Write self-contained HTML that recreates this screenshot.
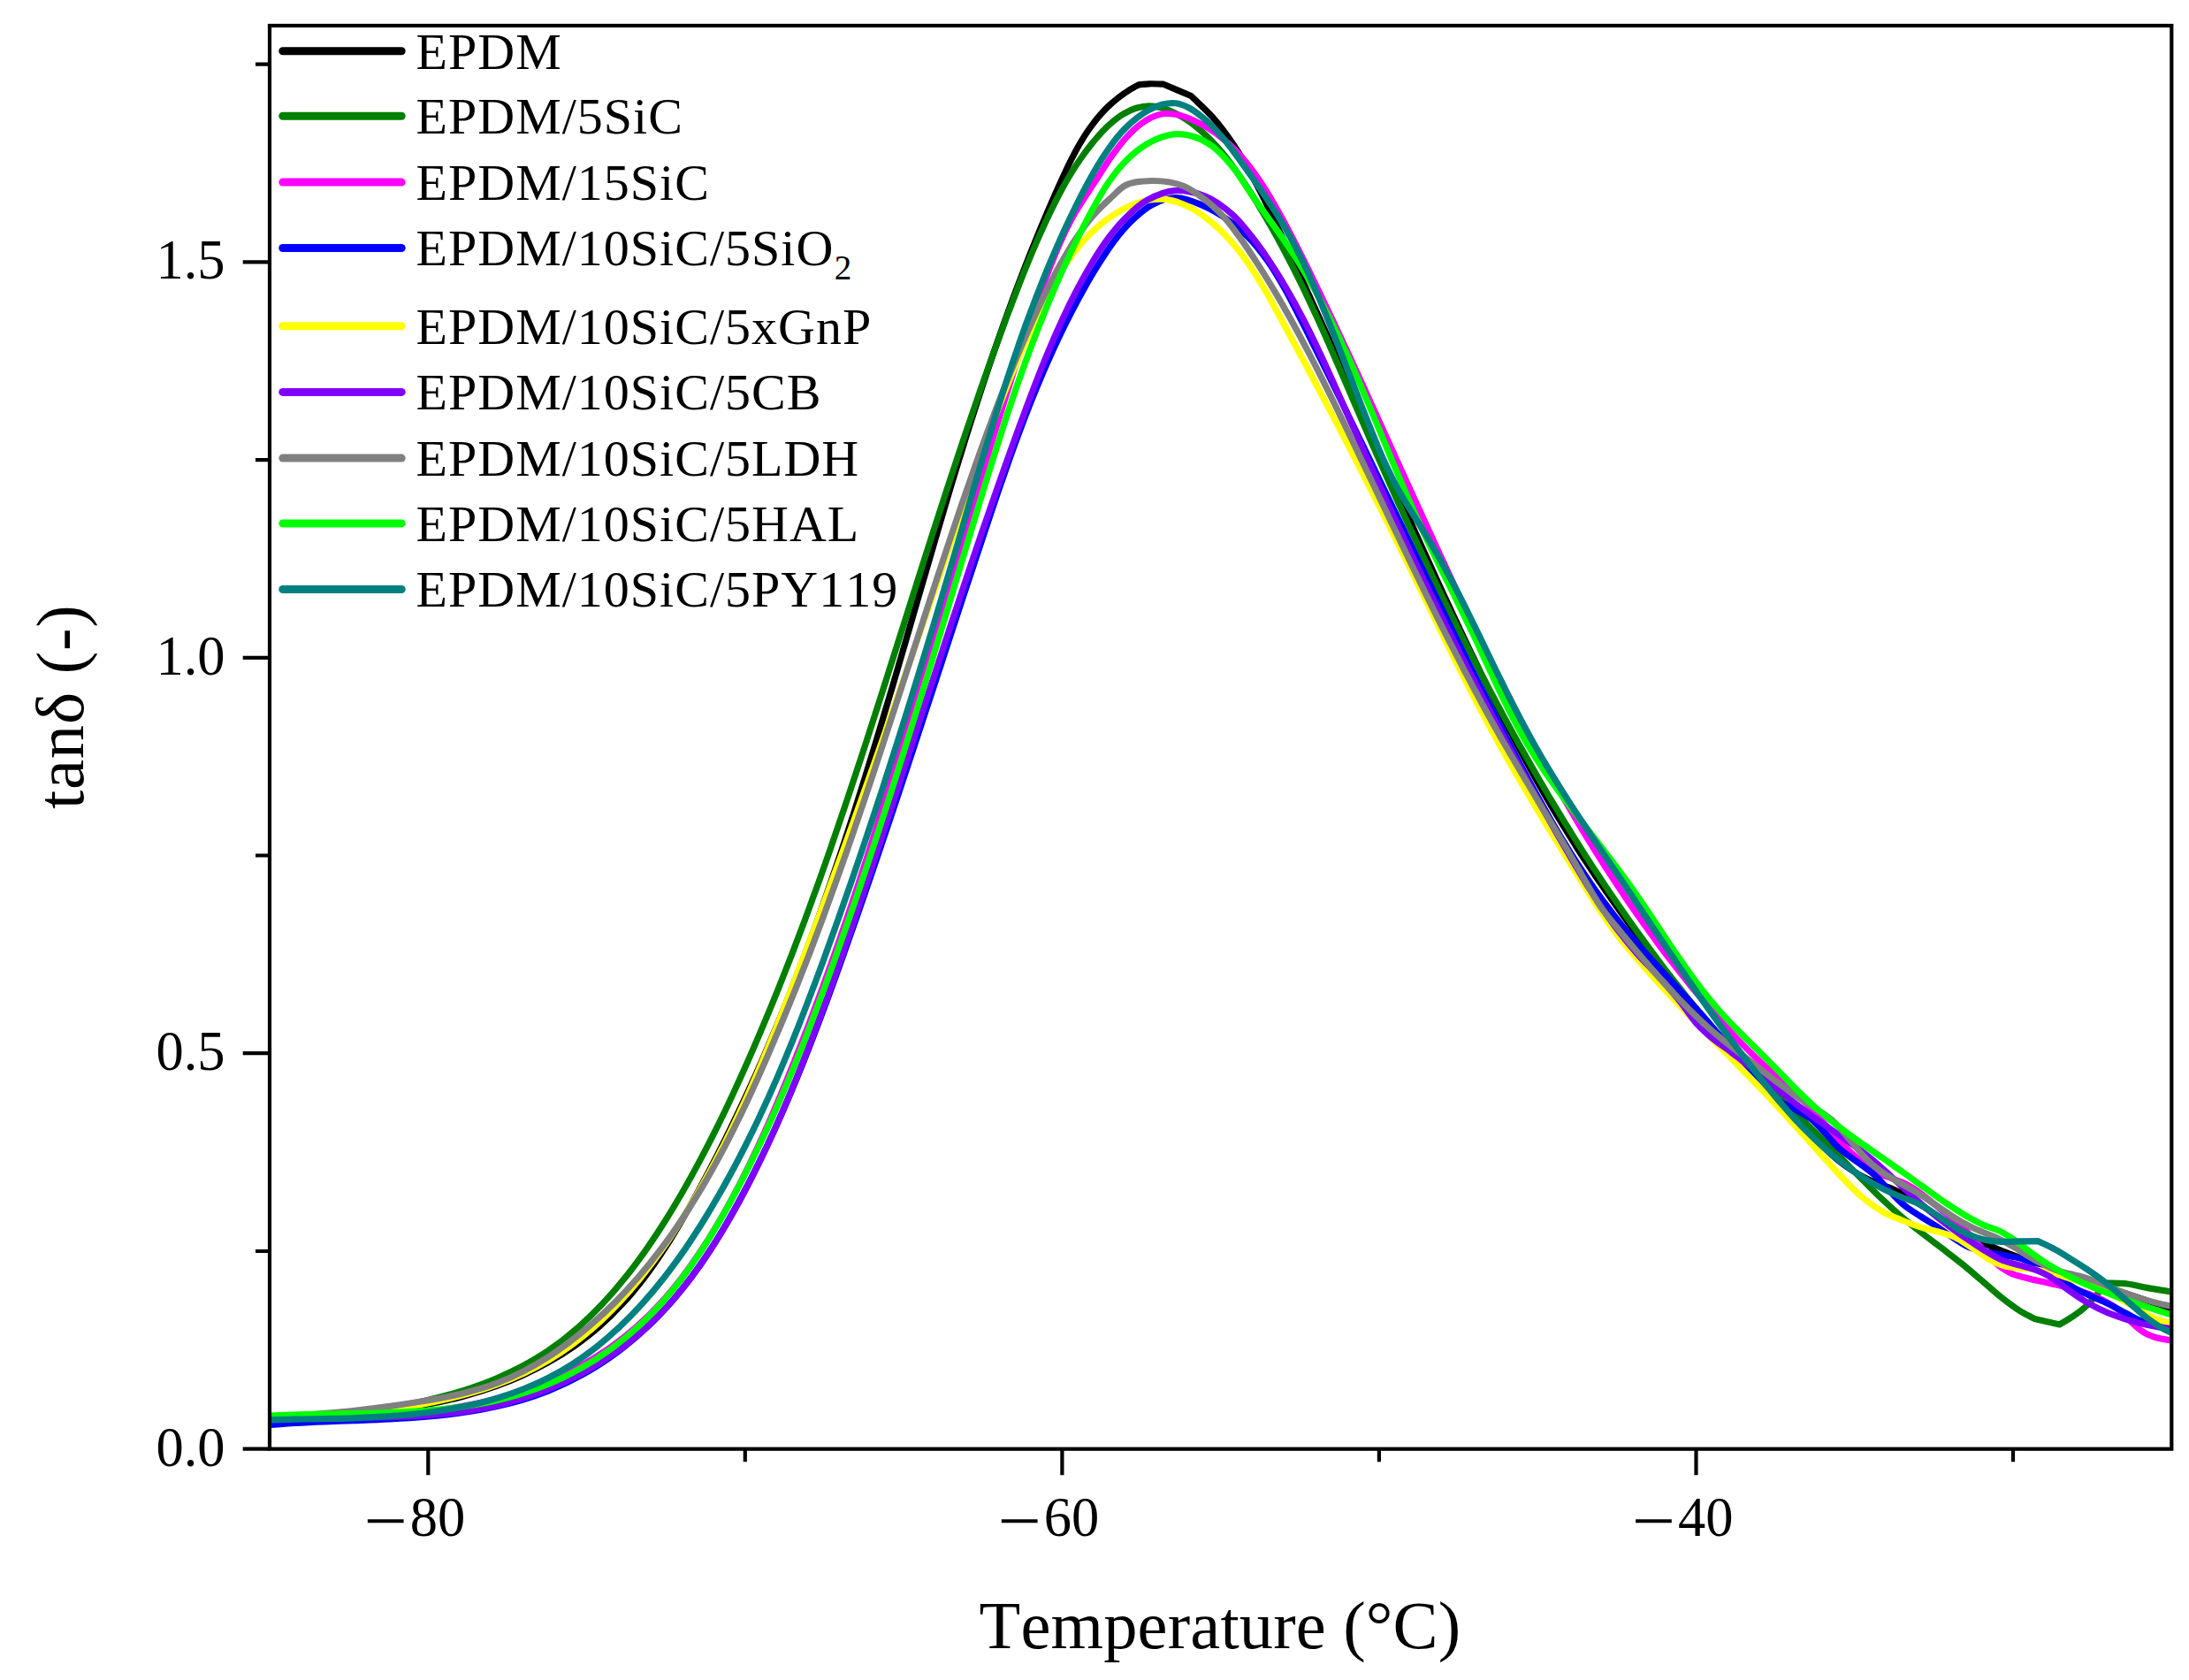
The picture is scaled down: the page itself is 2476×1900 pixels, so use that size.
<!DOCTYPE html>
<html lang="en"><head><meta charset="utf-8"><title>tan delta vs temperature</title>
<style>html,body{margin:0;padding:0;background:#fff}body{width:2476px;height:1900px;overflow:hidden}svg{display:block}text{font-family:"Liberation Serif","DejaVu Serif",serif;fill:#000;font-kerning:none}</style></head><body>
<svg width="2476" height="1900" viewBox="0 0 2476 1900">
<rect width="2476" height="1900" fill="#fff"/>
<defs><clipPath id="pc"><rect x="307.1" y="31.1" width="2147.1" height="1605.5"/></clipPath></defs>
<g clip-path="url(#pc)" fill="none" stroke-width="7.2" stroke-linejoin="round" stroke-linecap="butt">
<path d="M300.0 1604.0C311.1 1603.3 322.2 1602.7 333.2 1602.0C344.4 1601.4 355.5 1600.9 366.6 1600.2C377.8 1599.5 388.9 1598.9 400.0 1598.0C413.8 1597.0 427.5 1595.9 441.2 1594.2C454.9 1592.6 468.5 1590.8 482.0 1588.4C495.5 1586.0 509.0 1583.1 522.3 1579.7C535.6 1576.2 548.9 1572.1 561.8 1567.4C571.8 1563.8 581.7 1559.8 591.3 1555.4C601.0 1550.9 610.6 1546.1 619.8 1540.9C630.1 1535.2 640.2 1528.9 649.8 1522.2C659.4 1515.4 668.8 1508.2 677.6 1500.5C686.9 1492.4 695.8 1483.6 704.2 1474.4C712.7 1465.3 720.6 1455.6 728.2 1445.7C735.8 1435.8 742.9 1425.5 749.8 1415.0C756.8 1404.5 763.4 1393.7 769.8 1382.8C776.2 1371.9 782.3 1360.9 788.4 1349.8C795.1 1337.5 801.7 1325.1 808.1 1312.7C814.5 1300.3 820.7 1287.8 826.8 1275.3C832.9 1262.8 838.9 1250.2 844.7 1237.6C850.5 1225.0 856.2 1212.3 861.8 1199.6C867.5 1186.5 873.1 1173.3 878.6 1160.1C884.1 1146.8 889.5 1133.5 894.7 1120.2C900.0 1106.9 905.1 1093.5 910.2 1080.1C915.1 1066.9 920.0 1053.6 924.8 1040.4C929.5 1027.1 934.2 1013.8 938.8 1000.4C943.4 987.1 947.9 973.7 952.4 960.3C956.8 947.1 961.1 933.8 965.4 920.5C969.6 907.2 973.8 893.9 978.0 880.6C982.1 867.3 986.2 853.9 990.3 840.5C994.4 827.2 998.4 813.9 1002.3 800.5C1006.3 787.1 1010.3 773.8 1014.2 760.4C1018.1 747.0 1022.0 733.6 1025.9 720.2C1029.8 706.8 1033.7 693.4 1037.5 680.0C1041.4 666.6 1045.3 653.2 1049.2 639.9C1053.1 626.5 1057.0 613.1 1060.9 599.7C1064.9 586.3 1068.8 572.8 1072.8 559.4C1076.8 546.0 1080.9 532.6 1085.0 519.3C1089.1 505.9 1093.2 492.5 1097.5 479.2C1101.7 465.8 1106.0 452.4 1110.4 439.1C1114.8 425.7 1119.2 412.4 1123.8 399.2C1128.4 385.9 1133.0 372.7 1137.8 359.5C1141.4 349.5 1145.0 339.6 1148.7 329.7C1152.4 319.8 1156.2 309.9 1160.1 300.0C1164.0 290.0 1168.0 280.0 1172.1 270.1C1176.1 260.1 1180.3 250.2 1184.5 240.3C1189.5 228.8 1194.5 217.2 1199.8 205.8C1202.9 199.0 1206.0 192.1 1209.3 185.4C1212.6 178.7 1216.0 172.0 1219.7 165.5C1224.1 157.7 1228.8 150.0 1234.2 142.8C1240.9 133.7 1248.4 124.8 1256.9 117.3C1263.4 111.5 1270.5 106.1 1277.9 101.5C1281.2 99.5 1284.6 97.7 1288.0 95.8C1292.0 95.5 1296.0 94.9 1300.0 94.8C1305.3 94.6 1310.7 95.1 1316.0 95.2C1326.4 99.6 1336.9 104.1 1347.3 108.5C1355.3 116.4 1363.8 123.8 1371.3 132.2C1380.4 142.4 1388.5 153.6 1396.2 165.0C1402.3 174.1 1407.8 183.6 1413.2 193.2C1418.6 202.9 1423.6 212.8 1428.6 222.7C1433.6 232.6 1438.2 242.6 1443.0 252.6C1445.3 257.6 1447.6 262.5 1450.0 267.4C1454.8 277.8 1459.6 288.1 1464.4 298.5C1469.2 308.8 1473.9 319.1 1478.7 329.5C1483.4 339.8 1488.1 350.2 1492.8 360.5C1498.8 373.7 1504.7 386.9 1510.6 400.1C1516.5 413.3 1522.4 426.5 1528.3 439.7C1534.2 452.9 1540.1 466.2 1546.0 479.4C1552.0 492.8 1557.9 506.2 1563.9 519.6C1569.9 533.0 1575.8 546.4 1581.8 559.8C1587.8 573.2 1593.8 586.6 1599.9 600.0C1603.7 608.4 1607.5 616.8 1611.3 625.2C1615.1 633.6 1619.0 642.0 1622.8 650.4C1628.2 662.1 1633.5 673.7 1638.9 685.3C1644.3 696.9 1649.7 708.4 1655.2 720.0C1661.6 733.5 1668.1 747.0 1674.6 760.4C1681.2 773.8 1687.8 787.2 1694.5 800.5C1701.2 813.8 1708.1 827.1 1715.1 840.3C1720.4 850.3 1725.8 860.3 1731.3 870.3C1736.8 880.3 1742.4 890.2 1748.1 900.1C1753.8 909.9 1759.6 919.8 1765.5 929.5C1771.5 939.3 1777.5 949.0 1783.7 958.7C1788.2 965.7 1792.7 972.7 1797.4 979.6C1802.0 986.6 1806.6 993.5 1811.4 1000.4C1818.6 1010.9 1826.0 1021.4 1833.4 1031.8C1840.8 1042.2 1848.3 1052.5 1855.9 1062.8C1862.9 1072.4 1870.1 1082.0 1877.3 1091.5C1884.5 1101.0 1891.8 1110.4 1899.3 1119.7C1904.4 1126.0 1909.5 1132.3 1914.8 1138.5C1920.1 1144.7 1925.4 1150.9 1930.9 1156.9C1937.9 1164.8 1945.2 1172.5 1952.5 1180.2C1959.8 1187.9 1967.3 1195.4 1974.7 1203.0C1984.0 1212.5 1993.4 1221.9 2002.5 1231.5C2011.6 1241.1 2020.7 1250.7 2029.5 1260.5C2033.9 1265.5 2038.2 1270.5 2042.6 1275.5C2049.5 1283.2 2056.2 1291.0 2063.6 1298.2C2068.8 1303.2 2074.1 1308.2 2079.7 1312.7C2088.6 1319.8 2098.3 1326.2 2108.4 1331.4C2115.4 1335.1 2122.8 1338.1 2130.2 1340.9C2133.2 1342.0 2136.3 1342.9 2139.3 1344.1C2143.6 1345.8 2147.7 1348.0 2151.7 1350.1C2159.2 1354.0 2166.3 1358.6 2173.4 1363.2C2180.8 1367.8 2187.9 1372.9 2195.2 1377.7C2202.5 1382.5 2209.7 1387.4 2217.2 1391.8C2221.4 1394.3 2225.6 1396.8 2230.0 1399.1C2235.9 1402.3 2242.1 1405.2 2248.2 1407.9C2253.5 1410.2 2258.8 1412.3 2264.1 1414.5C2271.2 1417.3 2278.3 1420.0 2285.5 1422.7C2292.7 1425.4 2300.0 1428.0 2307.2 1430.6C2314.5 1433.1 2321.9 1435.6 2329.2 1438.1C2338.4 1441.2 2347.7 1444.3 2356.9 1447.3C2366.2 1450.3 2375.5 1453.3 2384.7 1456.3C2397.4 1460.5 2410.0 1464.6 2422.6 1468.9C2435.1 1473.1 2447.5 1477.6 2460.0 1482.0" stroke="#000000"/>
<path d="M300.0 1603.0C310.9 1602.6 321.9 1602.4 332.8 1601.9C343.9 1601.4 355.0 1600.8 366.1 1600.0C377.3 1599.1 388.5 1598.2 399.7 1597.0C413.7 1595.5 427.6 1593.8 441.5 1591.6C455.3 1589.4 469.1 1586.9 482.7 1583.7C496.3 1580.6 509.9 1577.1 523.2 1573.0C536.3 1568.8 549.4 1564.2 562.0 1558.8C572.0 1554.5 581.9 1549.9 591.5 1544.8C601.0 1539.6 610.4 1534.1 619.4 1528.1C631.6 1519.9 643.3 1510.7 654.3 1501.0C663.7 1492.7 672.7 1483.9 681.3 1474.8C690.0 1465.6 698.3 1455.9 706.2 1446.0C714.3 1436.1 721.9 1425.8 729.4 1415.3C736.8 1404.8 743.9 1394.0 750.8 1383.2C757.7 1372.3 764.3 1361.3 770.8 1350.2C777.9 1337.9 784.8 1325.5 791.5 1312.9C798.1 1300.5 804.6 1288.0 810.8 1275.4C817.1 1262.8 823.1 1250.2 829.0 1237.5C834.9 1224.8 840.7 1212.1 846.3 1199.3C852.1 1186.2 857.7 1173.0 863.3 1159.7C868.9 1146.5 874.3 1133.3 879.7 1119.9C885.0 1106.6 890.3 1093.3 895.5 1079.9C900.5 1066.7 905.5 1053.5 910.5 1040.2C915.4 1027.0 920.2 1013.7 925.0 1000.4C929.8 987.0 934.5 973.7 939.2 960.3C943.8 947.0 948.3 933.7 952.8 920.4C957.4 907.1 961.8 893.8 966.2 880.4C970.7 867.1 975.1 853.7 979.4 840.3C983.7 827.0 988.0 813.6 992.3 800.3C996.6 786.9 1000.9 773.6 1005.1 760.2C1009.4 746.9 1013.6 733.5 1017.8 720.1C1022.1 706.8 1026.3 693.4 1030.5 680.1C1034.7 666.7 1039.0 653.4 1043.2 640.0C1047.5 626.7 1051.7 613.3 1056.0 600.0C1060.3 586.6 1064.6 573.2 1069.0 559.9C1073.3 546.5 1077.7 533.2 1082.2 519.8C1086.6 506.5 1091.0 493.2 1095.6 479.9C1100.1 466.5 1104.7 453.1 1109.4 439.7C1114.1 426.4 1118.8 413.0 1123.6 399.7C1128.4 386.4 1133.2 373.1 1138.2 359.8C1142.0 349.7 1145.8 339.6 1149.7 329.6C1153.6 319.5 1157.5 309.5 1161.6 299.6C1165.7 289.5 1170.0 279.4 1174.4 269.4C1178.8 259.5 1183.2 249.7 1188.0 239.9C1191.2 233.2 1194.5 226.6 1197.9 220.0C1201.4 213.4 1205.0 206.9 1208.8 200.5C1212.8 193.7 1217.1 187.0 1221.6 180.5C1226.2 173.8 1231.0 167.3 1236.1 161.1C1242.1 154.0 1248.1 146.8 1255.1 140.8C1260.0 136.5 1265.1 132.2 1270.8 128.9C1275.3 126.2 1280.1 123.8 1285.1 122.3C1289.8 120.9 1294.8 119.9 1299.7 119.9C1304.6 119.8 1309.6 120.7 1314.3 121.9C1321.8 123.8 1328.8 127.6 1335.6 131.4C1343.9 136.1 1351.7 142.1 1359.0 148.4C1367.5 155.6 1375.2 164.1 1382.5 172.6C1391.4 183.0 1399.1 194.6 1406.8 206.0C1414.4 217.1 1421.4 228.5 1428.3 240.1C1433.8 249.3 1439.1 258.6 1444.3 268.0C1449.8 278.0 1455.1 288.1 1460.3 298.2C1465.5 308.3 1470.5 318.5 1475.5 328.7C1480.4 339.0 1485.2 349.3 1489.9 359.6C1496.0 372.8 1501.9 386.2 1507.7 399.5C1513.6 412.8 1519.3 426.2 1525.1 439.6C1530.9 453.0 1536.6 466.4 1542.4 479.7C1548.2 493.2 1554.0 506.7 1560.0 520.1C1565.9 533.5 1571.9 546.9 1577.9 560.3C1583.9 573.6 1590.0 587.0 1596.2 600.3C1602.4 613.7 1608.6 627.1 1615.0 640.5C1621.3 653.8 1627.7 667.2 1634.2 680.5C1640.7 693.7 1647.3 707.0 1653.9 720.2C1659.0 730.3 1664.1 740.3 1669.3 750.4C1674.5 760.4 1679.7 770.4 1685.0 780.4C1690.2 790.3 1695.6 800.3 1700.9 810.2C1706.3 820.1 1711.7 830.0 1717.2 839.9C1722.9 850.0 1728.5 860.0 1734.3 870.0C1740.0 880.1 1745.9 890.0 1751.7 900.0C1757.6 909.9 1763.6 919.8 1769.6 929.7C1775.6 939.5 1781.7 949.3 1787.9 959.1C1792.4 966.1 1796.9 973.1 1801.4 980.1C1806.0 987.1 1810.6 994.0 1815.2 1001.0C1821.9 1011.0 1828.7 1020.9 1835.6 1030.8C1842.5 1040.6 1849.4 1050.4 1856.5 1060.2C1863.7 1070.1 1870.9 1079.9 1878.3 1089.6C1885.6 1099.3 1893.1 1108.9 1900.7 1118.5C1905.5 1124.6 1910.5 1130.7 1915.4 1136.7C1920.4 1142.7 1925.4 1148.7 1930.5 1154.6C1939.9 1165.5 1949.4 1176.3 1959.2 1186.8C1964.7 1192.7 1970.3 1198.6 1976.0 1204.4C1981.6 1210.3 1987.3 1216.0 1993.1 1221.8C1999.2 1227.9 2005.3 1233.9 2011.5 1240.0C2017.6 1246.0 2023.8 1252.1 2030.0 1258.1C2037.6 1265.4 2045.2 1272.7 2052.7 1280.1C2061.8 1289.1 2070.9 1298.0 2079.9 1307.1C2089.4 1316.6 2098.7 1326.3 2108.2 1335.8C2115.5 1343.1 2122.7 1350.4 2130.2 1357.4C2137.0 1363.8 2144.0 1370.2 2151.1 1376.3C2158.5 1382.6 2166.2 1388.6 2173.8 1394.5C2181.3 1400.4 2189.0 1406.0 2196.5 1411.7C2204.1 1417.6 2211.8 1423.4 2219.2 1429.4C2227.0 1435.7 2234.5 1442.2 2242.2 1448.7C2249.6 1455.1 2256.8 1461.8 2264.5 1467.9C2271.3 1473.2 2278.1 1478.5 2285.4 1483.0C2290.5 1486.1 2295.9 1488.6 2301.1 1491.4C2310.6 1493.6 2320.1 1495.8 2329.6 1498.0C2333.3 1495.8 2337.0 1493.7 2340.6 1491.4C2346.3 1487.7 2351.9 1483.8 2357.1 1479.4C2366.9 1471.2 2374.4 1460.5 2383.0 1451.0C2390.8 1451.3 2398.7 1451.1 2406.4 1452.0C2413.8 1452.9 2421.0 1455.0 2428.3 1456.4C2438.8 1458.3 2449.4 1459.8 2460.0 1461.5" stroke="#008000"/>
<path d="M300.0 1606.0C311.0 1605.4 322.0 1604.8 333.0 1604.3C344.1 1603.8 355.2 1603.4 366.3 1603.0C377.5 1602.6 388.6 1602.3 399.8 1601.8C413.6 1601.2 427.3 1600.6 441.1 1599.7C454.8 1598.8 468.6 1597.8 482.2 1596.2C495.7 1594.7 509.2 1593.0 522.5 1590.6C535.8 1588.3 549.1 1585.6 562.2 1582.1C572.0 1579.6 581.8 1576.7 591.4 1573.4C601.0 1570.2 610.6 1566.6 620.0 1562.6C632.1 1557.5 644.1 1551.8 655.7 1545.4C667.2 1539.1 678.5 1532.2 689.3 1524.6C700.1 1517.1 710.6 1508.9 720.4 1500.2C729.7 1492.0 738.5 1483.2 746.8 1474.1C755.3 1465.0 763.2 1455.3 770.9 1445.5C778.5 1435.5 785.7 1425.2 792.7 1414.8C799.7 1404.3 806.3 1393.6 812.6 1382.8C819.0 1372.0 825.0 1361.0 830.9 1349.9C837.4 1337.8 843.6 1325.4 849.6 1313.0C855.6 1300.7 861.3 1288.3 866.9 1275.8C872.5 1263.4 877.8 1250.8 883.1 1238.2C888.4 1225.6 893.5 1212.9 898.6 1200.2C903.9 1186.9 909.1 1173.6 914.2 1160.3C919.3 1146.9 924.3 1133.5 929.3 1120.1C934.2 1106.6 939.0 1093.2 943.8 1079.7C948.5 1066.4 953.1 1053.1 957.6 1039.8C962.1 1026.5 966.5 1013.2 970.9 999.9C975.3 986.6 979.5 973.3 983.8 960.0C988.0 946.7 992.1 933.5 996.2 920.2C1000.4 907.0 1004.4 893.7 1008.5 880.4C1012.5 867.1 1016.5 853.8 1020.5 840.5C1024.5 827.2 1028.5 813.9 1032.5 800.5C1036.5 787.2 1040.4 773.8 1044.4 760.5C1048.4 747.1 1052.3 733.7 1056.3 720.3C1060.2 706.8 1064.2 693.4 1068.2 679.9C1072.2 666.5 1076.1 653.0 1080.1 639.6C1084.1 626.1 1088.1 612.7 1092.1 599.2C1096.0 585.9 1100.0 572.6 1104.0 559.3C1107.9 546.0 1111.9 532.7 1115.9 519.4C1119.9 506.2 1123.9 492.9 1128.0 479.7C1132.1 466.3 1136.2 453.0 1140.4 439.6C1144.5 426.3 1148.7 413.0 1153.1 399.8C1157.4 386.5 1161.8 373.3 1166.4 360.2C1169.9 350.2 1173.4 340.2 1177.0 330.3C1180.7 320.4 1184.4 310.5 1188.3 300.6C1192.3 290.5 1196.3 280.3 1200.9 270.4C1205.5 260.4 1210.5 250.4 1216.0 240.8C1223.0 228.5 1231.3 216.9 1239.0 204.9C1245.2 195.4 1251.1 185.5 1257.7 176.2C1262.8 169.3 1267.8 162.2 1273.6 155.9C1278.8 150.2 1284.3 144.6 1290.5 140.1C1293.8 137.6 1297.3 135.2 1301.0 133.4C1306.2 131.0 1312.1 129.0 1317.8 128.5C1322.0 128.2 1326.5 128.8 1330.7 129.5C1337.0 130.6 1343.2 133.2 1349.1 135.7C1355.4 138.4 1361.4 141.7 1367.2 145.3C1373.6 149.3 1379.8 153.9 1385.5 158.8C1393.9 165.8 1401.5 174.0 1408.5 182.3C1417.3 192.6 1424.8 204.1 1432.2 215.6C1439.1 226.5 1445.3 237.9 1451.5 249.3C1454.8 255.4 1458.0 261.5 1461.2 267.7C1466.7 278.3 1472.1 289.1 1477.4 299.9C1482.4 309.8 1487.2 319.9 1492.0 329.9C1496.9 340.0 1501.7 350.1 1506.5 360.3C1512.7 373.5 1518.9 386.8 1525.1 400.1C1531.3 413.5 1537.4 426.8 1543.5 440.1C1549.6 453.5 1555.7 466.9 1561.7 480.2C1567.6 493.1 1573.4 506.0 1579.3 519.0C1585.1 531.9 1591.0 544.8 1596.9 557.7C1600.1 564.7 1603.3 571.8 1606.5 578.8C1609.7 585.8 1612.9 592.8 1616.1 599.8C1622.3 613.3 1628.4 626.7 1634.7 640.1C1640.9 653.6 1647.2 667.0 1653.6 680.3C1659.9 693.7 1666.3 707.1 1672.8 720.4C1679.3 733.8 1685.9 747.2 1692.5 760.5C1699.2 773.8 1706.0 787.1 1712.8 800.3C1719.7 813.6 1726.6 826.8 1733.7 839.9C1739.1 850.0 1744.7 860.1 1750.2 870.2C1755.8 880.3 1761.5 890.3 1767.3 900.3C1773.0 910.3 1778.8 920.2 1784.7 930.1C1790.6 940.0 1796.6 949.8 1802.7 959.6C1807.0 966.5 1811.3 973.3 1815.7 980.2C1820.1 987.0 1824.6 993.9 1829.0 1000.6C1836.2 1011.4 1843.4 1022.1 1850.8 1032.8C1859.2 1044.7 1867.7 1056.6 1876.3 1068.3C1883.9 1078.5 1891.6 1088.6 1899.4 1098.5C1908.4 1110.1 1917.6 1121.5 1927.1 1132.6C1932.5 1139.1 1938.0 1145.4 1943.6 1151.7C1949.2 1158.0 1954.9 1164.2 1960.7 1170.4C1965.9 1175.9 1971.2 1181.4 1976.6 1186.8C1981.9 1192.1 1987.2 1197.3 1992.6 1202.4C1998.3 1207.8 2004.2 1213.0 2010.0 1218.3C2015.6 1223.2 2021.4 1228.0 2027.0 1233.0C2032.5 1238.0 2038.0 1242.9 2043.2 1248.1C2049.8 1254.8 2055.8 1261.9 2062.0 1268.9C2068.2 1275.9 2074.0 1283.3 2080.4 1290.1C2085.6 1295.5 2090.7 1300.9 2096.3 1305.9C2099.8 1309.0 2103.4 1312.0 2107.1 1314.9C2110.9 1317.8 2114.8 1320.5 2118.9 1323.0C2122.9 1325.4 2127.0 1327.6 2131.2 1329.4C2134.3 1330.8 2137.6 1331.8 2140.9 1333.1C2144.2 1334.3 2147.7 1335.4 2151.0 1336.9C2154.6 1338.5 2158.2 1340.5 2161.7 1342.5C2170.0 1347.4 2177.5 1353.7 2185.1 1359.6C2188.6 1362.4 2192.0 1365.3 2195.6 1368.1C2199.2 1371.0 2202.9 1373.8 2206.5 1376.8C2211.6 1380.9 2216.6 1385.1 2221.4 1389.6C2228.1 1396.0 2233.7 1403.5 2240.1 1410.2C2248.1 1418.5 2255.3 1428.0 2264.8 1434.3C2268.0 1436.4 2271.2 1438.4 2274.6 1440.0C2281.2 1443.1 2288.7 1444.4 2295.8 1446.2C2303.4 1448.2 2311.1 1449.6 2318.7 1451.4C2324.3 1452.7 2329.8 1453.9 2335.3 1455.3C2339.1 1456.3 2342.9 1457.2 2346.6 1458.3C2355.8 1461.1 2365.1 1464.0 2373.8 1468.1C2381.0 1471.6 2388.2 1475.4 2394.6 1480.2C2396.5 1481.6 2398.2 1483.0 2400.0 1484.5C2404.9 1488.7 2408.8 1493.9 2413.7 1498.1C2418.2 1501.9 2422.7 1506.0 2428.0 1508.6C2431.4 1510.4 2435.1 1511.6 2438.8 1512.8C2445.7 1514.8 2452.9 1515.2 2460.0 1516.5" stroke="#ff00ff"/>
<path d="M300.0 1612.0C311.2 1611.2 322.3 1610.2 333.5 1609.5C344.6 1608.8 355.7 1608.3 366.8 1607.9C377.9 1607.4 388.9 1607.1 400.0 1606.6C413.7 1606.1 427.3 1605.7 440.9 1604.9C454.6 1604.2 468.3 1603.4 481.9 1602.2C495.4 1601.0 508.8 1599.7 522.2 1597.8C535.6 1595.8 548.9 1593.6 562.1 1590.6C572.0 1588.4 581.8 1585.9 591.4 1583.0C601.0 1580.1 610.6 1576.8 620.0 1573.1C633.9 1567.6 647.5 1561.0 660.6 1553.6C673.7 1546.3 686.4 1537.9 698.5 1529.0C710.6 1520.0 722.2 1510.2 733.1 1499.9C742.0 1491.5 750.5 1482.5 758.6 1473.3C766.7 1464.1 774.4 1454.5 781.8 1444.6C789.2 1434.8 796.2 1424.6 802.9 1414.3C809.7 1404.0 816.1 1393.4 822.3 1382.7C828.6 1372.1 834.5 1361.2 840.4 1350.3C846.9 1338.1 853.1 1325.8 859.2 1313.3C865.3 1301.0 871.2 1288.5 876.9 1275.9C882.6 1263.4 888.1 1250.7 893.5 1238.0C898.9 1225.4 904.1 1212.6 909.2 1199.8C914.5 1186.6 919.7 1173.3 924.7 1160.0C929.8 1146.7 934.7 1133.4 939.6 1120.0C944.5 1106.6 949.2 1093.2 954.0 1079.8C958.7 1066.5 963.4 1053.2 968.0 1040.0C972.6 1026.7 977.2 1013.4 981.8 1000.0C986.4 986.7 990.9 973.4 995.4 960.1C999.9 946.8 1004.4 933.5 1008.8 920.1C1013.3 906.8 1017.7 893.5 1022.1 880.2C1026.5 866.8 1030.9 853.5 1035.3 840.2C1039.7 826.8 1044.1 813.5 1048.4 800.2C1052.8 786.9 1057.1 773.6 1061.5 760.2C1065.9 746.9 1070.2 733.6 1074.6 720.2C1079.0 706.9 1083.4 693.5 1087.7 680.1C1092.1 666.7 1096.6 653.3 1101.0 640.0C1105.4 626.6 1109.8 613.2 1114.3 599.8C1118.8 586.4 1123.3 572.9 1127.8 559.6C1132.4 546.2 1137.0 532.8 1141.8 519.4C1146.5 506.1 1151.3 492.8 1156.3 479.6C1161.5 466.1 1166.8 452.6 1172.3 439.2C1177.8 425.8 1183.5 412.5 1189.5 399.3C1195.4 386.2 1201.6 373.1 1208.2 360.3C1213.4 350.1 1218.7 340.0 1224.3 330.0C1229.8 320.0 1235.5 310.0 1241.6 300.4C1248.8 289.0 1255.9 277.5 1264.4 267.1C1270.7 259.4 1277.4 251.8 1284.8 245.2C1290.7 240.1 1296.9 234.8 1303.7 231.3C1312.0 227.0 1321.9 223.5 1331.0 223.5C1340.6 223.5 1350.6 228.3 1359.8 232.2C1371.2 237.0 1382.2 243.7 1392.3 251.2C1399.2 256.4 1405.9 262.2 1412.0 268.4C1420.3 276.8 1427.6 286.3 1434.4 295.9C1441.3 305.6 1447.3 316.1 1453.2 326.5C1459.2 337.0 1464.5 347.9 1470.0 358.7C1475.2 368.8 1480.3 379.0 1485.3 389.2C1490.4 399.3 1495.5 409.5 1500.5 419.6C1505.5 429.8 1510.5 439.9 1515.5 450.1C1520.4 460.3 1525.4 470.4 1530.3 480.6C1536.8 493.9 1543.2 507.2 1549.7 520.5C1556.1 533.9 1562.5 547.2 1569.0 560.5C1575.4 573.8 1581.8 587.1 1588.2 600.4C1594.6 613.7 1600.9 626.9 1607.4 640.2C1613.8 653.4 1620.2 666.7 1626.6 679.9C1633.1 693.1 1639.5 706.3 1646.0 719.5C1651.0 729.6 1656.0 739.7 1661.0 749.8C1666.0 759.9 1671.1 770.0 1676.2 780.0C1681.2 790.1 1686.3 800.2 1691.5 810.2C1696.6 820.3 1701.8 830.3 1707.0 840.3C1712.2 850.4 1717.5 860.5 1722.8 870.5C1728.2 880.6 1733.6 890.6 1739.1 900.5C1744.6 910.5 1750.1 920.4 1755.8 930.2C1761.5 940.0 1767.3 949.7 1773.3 959.4C1779.9 970.0 1786.7 980.5 1793.7 990.9C1800.6 1001.3 1807.8 1011.5 1815.3 1021.5C1821.6 1030.1 1828.1 1038.5 1834.8 1046.8C1842.5 1056.3 1850.6 1065.6 1858.7 1074.9C1865.5 1082.5 1872.4 1090.0 1879.2 1097.5C1886.1 1105.0 1893.1 1112.5 1899.9 1120.0C1909.0 1129.9 1918.1 1139.7 1926.9 1149.8C1932.6 1156.4 1938.3 1163.0 1943.9 1169.7C1949.4 1176.4 1954.8 1183.3 1960.2 1190.2C1965.3 1196.8 1970.1 1203.8 1975.4 1210.3C1980.6 1216.8 1985.7 1223.4 1991.6 1229.1C1997.1 1234.4 2003.0 1239.4 2009.3 1243.5C2015.3 1247.5 2022.2 1250.1 2028.5 1253.7C2035.0 1257.3 2041.8 1260.5 2047.7 1265.0C2053.7 1269.6 2058.8 1275.7 2064.1 1281.2C2069.8 1287.0 2074.8 1293.7 2080.8 1299.2C2088.9 1306.6 2098.7 1312.2 2107.5 1318.9C2111.1 1321.7 2114.9 1324.3 2118.4 1327.3C2122.1 1330.5 2125.5 1334.1 2129.0 1337.7C2133.2 1342.1 2137.1 1346.9 2141.4 1351.2C2145.0 1354.9 2148.6 1358.7 2152.5 1362.0C2158.8 1367.4 2166.1 1371.6 2173.1 1376.1C2178.6 1379.7 2184.4 1382.8 2189.8 1386.4C2193.4 1388.8 2196.8 1391.5 2200.4 1393.9C2209.0 1399.7 2217.4 1406.4 2226.8 1410.5C2238.2 1415.4 2251.2 1416.6 2263.6 1419.1C2271.0 1420.7 2278.7 1421.3 2286.0 1423.4C2292.5 1425.3 2298.9 1427.8 2305.0 1430.7C2312.1 1434.1 2318.5 1438.8 2325.2 1442.9C2332.4 1447.5 2339.2 1452.7 2346.7 1456.8C2351.7 1459.6 2357.0 1462.0 2362.3 1464.5C2369.5 1467.9 2376.9 1470.8 2384.0 1474.2C2391.7 1478.0 2399.2 1482.3 2406.8 1486.3C2410.3 1488.2 2413.7 1490.2 2417.3 1491.9C2430.6 1498.1 2445.8 1499.6 2460.0 1503.5" stroke="#0000ff"/>
<path d="M300.0 1604.0C310.7 1603.5 321.4 1603.1 332.1 1602.6C343.2 1602.1 354.2 1601.5 365.2 1600.8C376.4 1600.1 387.6 1599.3 398.8 1598.3C412.8 1597.0 426.8 1595.6 440.7 1593.7C454.7 1591.8 468.6 1589.7 482.5 1587.1C496.2 1584.4 510.0 1581.5 523.5 1577.8C536.9 1574.2 550.2 1570.2 563.2 1565.3C573.0 1561.7 582.8 1557.7 592.4 1553.2C601.8 1548.8 611.1 1544.0 620.1 1538.7C629.3 1533.2 638.3 1527.2 647.0 1520.9C655.7 1514.5 664.1 1507.7 672.2 1500.6C681.6 1492.3 690.6 1483.4 699.2 1474.3C707.9 1465.1 716.2 1455.5 724.2 1445.7C732.3 1435.7 740.0 1425.4 747.4 1415.0C754.9 1404.5 762.0 1393.8 768.9 1382.9C775.8 1372.1 782.4 1361.0 788.9 1349.9C795.9 1337.7 802.6 1325.4 809.2 1313.0C815.7 1300.7 822.0 1288.3 828.1 1275.7C834.2 1263.2 840.0 1250.6 845.8 1238.0C851.5 1225.4 857.0 1212.7 862.4 1199.9C868.0 1186.7 873.4 1173.5 878.8 1160.2C884.1 1146.9 889.3 1133.6 894.5 1120.3C899.7 1106.9 904.7 1093.5 909.8 1080.1C914.8 1066.8 919.8 1053.5 924.8 1040.2C929.7 1026.8 934.7 1013.4 939.6 1000.1C944.5 986.7 949.4 973.3 954.3 959.9C959.1 946.6 963.9 933.3 968.6 920.1C973.4 906.8 978.2 893.5 982.9 880.2C987.6 866.8 992.3 853.5 997.0 840.2C1001.7 826.8 1006.4 813.5 1011.1 800.1C1015.8 786.7 1020.4 773.4 1025.1 760.0C1029.7 746.6 1034.4 733.3 1039.0 719.9C1043.6 706.5 1048.2 693.1 1052.8 679.8C1057.4 666.4 1062.0 653.0 1066.6 639.7C1071.1 626.3 1075.7 613.0 1080.3 599.6C1084.8 586.4 1089.3 573.1 1093.9 559.9C1098.5 546.7 1103.0 533.4 1107.7 520.3C1112.4 507.1 1117.2 493.9 1122.1 480.7C1127.1 467.1 1132.3 453.6 1137.7 440.1C1143.0 426.5 1148.6 413.0 1154.3 399.6C1160.1 386.1 1166.1 372.7 1172.4 359.4C1177.6 348.4 1182.8 337.3 1188.7 326.6C1194.6 316.0 1200.6 305.3 1207.6 295.4C1214.4 285.7 1221.8 276.0 1230.1 267.5C1238.2 259.2 1247.0 251.3 1256.6 245.0C1266.5 238.3 1277.5 232.0 1288.9 228.8C1298.7 226.1 1309.7 224.4 1319.7 225.6C1329.4 226.8 1339.2 231.0 1348.0 235.6C1356.2 239.9 1363.7 245.8 1370.9 251.8C1376.8 256.7 1382.4 262.1 1387.7 267.7C1396.1 276.5 1403.7 286.3 1410.9 296.3C1418.0 306.2 1424.3 316.8 1430.6 327.3C1436.8 337.9 1442.5 348.8 1448.4 359.6C1453.9 369.6 1459.3 379.6 1464.7 389.7C1470.1 399.7 1475.5 409.8 1480.9 419.8C1486.2 429.9 1491.6 440.0 1496.9 450.1C1502.3 460.1 1507.6 470.2 1512.9 480.4C1519.8 493.6 1526.8 506.9 1533.6 520.1C1540.5 533.4 1547.3 546.7 1554.0 560.0C1560.8 573.4 1567.5 586.7 1574.1 600.1C1580.7 613.3 1587.2 626.6 1593.7 639.9C1600.1 653.2 1606.6 666.5 1613.1 679.8C1619.6 693.0 1626.0 706.3 1632.6 719.6C1637.6 729.7 1642.6 739.8 1647.6 749.9C1652.7 760.0 1657.8 770.0 1663.0 780.1C1668.2 790.1 1673.4 800.2 1678.7 810.1C1684.1 820.1 1689.5 830.1 1695.0 840.0C1700.7 850.3 1706.5 860.6 1712.4 870.8C1718.3 881.0 1724.3 891.1 1730.3 901.2C1736.3 911.3 1742.4 921.4 1748.5 931.4C1754.6 941.4 1760.7 951.3 1766.8 961.3C1770.9 968.0 1775.1 974.6 1779.2 981.3C1783.3 987.9 1787.4 994.5 1791.5 1001.1C1796.9 1009.7 1802.2 1018.4 1807.8 1026.8C1813.4 1035.4 1819.2 1043.9 1825.3 1052.1C1832.8 1062.1 1840.8 1071.7 1848.9 1081.2C1856.8 1090.5 1864.9 1099.5 1873.1 1108.6C1881.1 1117.3 1889.2 1126.0 1897.4 1134.6C1907.0 1144.7 1916.7 1154.7 1926.5 1164.6C1932.1 1170.5 1937.8 1176.2 1943.5 1182.0C1949.3 1187.9 1955.0 1193.7 1960.8 1199.5C1966.0 1204.8 1971.1 1210.1 1976.3 1215.4C1982.0 1221.3 1987.7 1227.2 1993.3 1233.1C1998.9 1238.9 2004.5 1244.8 2010.0 1250.7C2016.6 1257.8 2023.1 1264.9 2029.5 1272.1C2033.7 1276.6 2037.8 1281.2 2041.9 1285.7C2049.2 1293.8 2056.5 1302.0 2063.8 1310.0C2069.2 1315.9 2074.5 1321.9 2080.0 1327.7C2089.0 1337.2 2097.7 1347.1 2107.9 1355.3C2115.0 1361.0 2122.6 1366.6 2130.6 1371.0C2137.1 1374.6 2144.2 1377.2 2151.1 1380.0C2158.7 1383.1 2166.3 1386.1 2174.0 1388.4C2181.0 1390.6 2188.3 1391.8 2195.4 1393.9C2200.6 1395.5 2206.0 1397.0 2211.0 1399.3C2217.5 1402.2 2223.3 1406.6 2229.4 1410.4C2237.5 1415.5 2244.8 1422.0 2253.3 1426.2C2257.1 1428.1 2261.0 1429.8 2264.9 1431.2C2276.6 1435.2 2289.7 1433.5 2301.9 1435.7C2307.6 1436.7 2313.3 1437.7 2318.9 1439.1C2324.5 1440.5 2329.9 1442.2 2335.4 1444.0C2340.8 1445.7 2346.3 1447.5 2351.7 1449.4C2358.8 1451.9 2365.8 1454.5 2372.7 1457.4C2378.2 1459.7 2383.7 1462.1 2389.1 1464.6C2395.1 1467.5 2400.9 1470.6 2406.7 1473.8C2412.4 1476.9 2417.9 1480.5 2423.5 1483.6C2428.9 1486.5 2434.3 1489.8 2439.9 1492.0C2446.4 1494.6 2453.3 1495.7 2460.0 1497.5" stroke="#ffff00"/>
<path d="M300.0 1606.2C310.9 1605.7 321.8 1605.0 332.7 1604.6C343.8 1604.2 354.9 1604.0 366.0 1603.9C377.1 1603.7 388.3 1603.6 399.5 1603.5C413.4 1603.3 427.2 1603.2 441.0 1602.7C454.9 1602.3 468.7 1601.8 482.5 1600.7C496.0 1599.7 509.4 1598.5 522.8 1596.6C536.1 1594.7 549.4 1592.4 562.4 1589.4C572.2 1587.1 581.9 1584.5 591.4 1581.5C600.9 1578.5 610.4 1575.1 619.6 1571.4C633.4 1565.9 646.8 1559.5 659.8 1552.4C672.8 1545.3 685.5 1537.4 697.5 1528.7C709.6 1520.1 721.2 1510.6 732.1 1500.6C741.1 1492.2 749.7 1483.3 757.9 1474.1C766.2 1464.8 774.0 1455.1 781.6 1445.2C789.1 1435.3 796.3 1425.0 803.1 1414.5C810.0 1404.0 816.6 1393.3 822.9 1382.5C829.2 1371.7 835.2 1360.8 841.1 1349.8C847.5 1337.6 853.8 1325.3 859.8 1312.8C865.7 1300.5 871.5 1288.1 877.1 1275.6C882.6 1263.2 888.0 1250.7 893.2 1238.1C898.4 1225.5 903.5 1212.9 908.5 1200.2C913.7 1187.0 918.7 1173.8 923.7 1160.5C928.7 1147.2 933.6 1133.8 938.5 1120.4C943.3 1107.0 948.1 1093.5 952.8 1080.0C957.4 1066.7 962.0 1053.4 966.5 1040.0C971.0 1026.7 975.5 1013.3 979.9 999.9C984.4 986.5 988.8 973.2 993.2 959.8C997.6 946.4 1001.9 933.1 1006.3 919.7C1010.6 906.4 1014.9 893.1 1019.3 879.7C1023.6 866.4 1027.9 853.1 1032.2 839.8C1036.5 826.5 1040.8 813.2 1045.1 799.9C1049.4 786.6 1053.8 773.3 1058.1 760.0C1062.4 746.7 1066.8 733.4 1071.1 720.1C1075.5 706.9 1079.9 693.6 1084.3 680.3C1088.7 667.1 1093.1 653.8 1097.6 640.5C1102.1 627.3 1106.6 614.0 1111.1 600.7C1115.8 587.3 1120.4 573.9 1125.1 560.5C1129.8 547.0 1134.5 533.6 1139.3 520.2C1144.1 506.7 1149.0 493.3 1153.9 479.8C1159.0 466.1 1164.0 452.4 1169.3 438.8C1174.5 425.2 1179.8 411.6 1185.5 398.1C1191.0 384.8 1196.8 371.5 1202.9 358.5C1207.6 348.4 1212.5 338.5 1217.6 328.7C1222.7 319.0 1227.9 309.3 1233.5 300.0C1240.0 289.2 1246.7 278.3 1254.4 268.3C1258.7 262.7 1263.1 257.1 1267.9 252.0C1276.8 242.3 1286.5 232.4 1297.9 226.1C1307.3 221.0 1318.1 216.4 1328.8 215.6C1334.1 215.3 1339.7 215.7 1345.1 216.6C1351.4 217.6 1357.7 219.6 1363.6 222.0C1374.8 226.7 1385.0 234.6 1394.1 242.7C1402.4 250.1 1409.3 259.3 1416.3 268.1C1423.7 277.4 1430.5 287.3 1437.1 297.3C1443.7 307.2 1450.0 317.4 1456.0 327.8C1462.0 338.1 1467.7 348.6 1473.2 359.2C1480.1 372.3 1486.5 385.6 1492.8 399.0C1499.2 412.4 1505.2 425.9 1511.3 439.5C1517.4 453.0 1523.3 466.6 1529.3 480.2C1535.2 493.6 1541.2 507.0 1547.2 520.3C1553.2 533.7 1559.3 547.0 1565.4 560.3C1571.5 573.5 1577.7 586.8 1583.9 600.0C1590.2 613.4 1596.5 626.8 1602.9 640.2C1609.3 653.6 1615.8 666.9 1622.3 680.2C1628.8 693.5 1635.4 706.8 1642.0 720.1C1647.1 730.1 1652.1 740.2 1657.2 750.2C1662.4 760.3 1667.5 770.3 1672.7 780.3C1677.9 790.3 1683.1 800.3 1688.3 810.2C1693.6 820.2 1698.9 830.1 1704.2 840.1C1709.6 850.1 1715.0 860.2 1720.5 870.2C1726.0 880.2 1731.5 890.2 1737.1 900.2C1742.6 910.2 1748.2 920.2 1753.9 930.1C1759.5 940.1 1765.2 950.0 1771.0 959.9C1774.9 966.7 1778.8 973.4 1782.8 980.2C1786.8 986.9 1790.8 993.6 1794.9 1000.3C1800.2 1008.8 1805.6 1017.3 1811.3 1025.7C1817.0 1034.1 1822.8 1042.5 1828.9 1050.6C1836.3 1060.3 1844.0 1069.7 1852.0 1078.8C1859.7 1087.6 1868.3 1095.7 1876.1 1104.5C1884.2 1113.4 1892.1 1122.3 1899.6 1131.7C1906.4 1140.1 1911.9 1149.7 1919.2 1157.7C1924.2 1163.1 1929.7 1168.1 1935.3 1172.9C1942.9 1179.3 1951.3 1184.7 1959.2 1190.8C1965.0 1195.1 1970.7 1199.5 1976.4 1204.0C1988.1 1213.1 1999.3 1222.8 2010.9 1232.1C2017.2 1237.2 2023.4 1242.4 2029.8 1247.4C2033.8 1250.4 2037.7 1253.5 2041.7 1256.4C2048.9 1261.9 2056.4 1267.0 2063.8 1272.2C2069.2 1276.1 2074.7 1279.8 2080.1 1283.6C2089.3 1290.1 2098.6 1296.5 2107.5 1303.4C2111.3 1306.4 2115.2 1309.5 2119.0 1312.6C2122.6 1315.6 2126.1 1318.7 2129.5 1321.8C2133.1 1324.9 2136.6 1328.1 2140.0 1331.4C2144.3 1335.2 2148.4 1339.2 2152.6 1343.1C2156.2 1346.4 2159.8 1349.8 2163.4 1353.0C2166.7 1356.0 2170.0 1358.9 2173.3 1361.7C2180.2 1367.6 2187.1 1373.3 2194.2 1378.8C2205.5 1387.6 2217.2 1396.0 2229.1 1404.1C2233.5 1407.1 2237.9 1410.1 2242.5 1412.9C2249.8 1417.4 2257.2 1422.3 2265.2 1425.5C2271.8 1428.1 2279.1 1429.3 2286.0 1431.4C2293.0 1433.5 2300.2 1435.1 2306.9 1438.0C2310.6 1439.6 2314.3 1441.4 2317.8 1443.4C2321.9 1445.8 2325.8 1448.8 2329.7 1451.5C2333.6 1454.4 2337.4 1457.5 2341.4 1460.3C2346.6 1464.0 2351.9 1467.7 2357.3 1471.0C2362.5 1474.1 2367.9 1477.0 2373.3 1479.7C2380.4 1483.2 2387.8 1486.2 2395.3 1488.9C2402.5 1491.6 2409.9 1493.8 2417.4 1495.8C2424.6 1497.6 2432.0 1499.2 2439.4 1500.4C2446.2 1501.6 2453.1 1502.1 2460.0 1503.0" stroke="#8000ff"/>
<path d="M300.0 1602.0C310.9 1601.6 321.8 1601.3 332.7 1600.8C343.8 1600.2 354.8 1599.5 365.9 1598.6C377.1 1597.7 388.3 1596.7 399.5 1595.5C413.5 1594.0 427.4 1592.3 441.2 1590.4C455.1 1588.4 468.9 1586.4 482.6 1584.0C496.2 1581.6 509.8 1579.2 523.1 1575.9C536.3 1572.6 549.5 1569.0 562.3 1564.1C572.2 1560.4 582.0 1556.0 591.5 1551.1C601.1 1546.2 610.5 1540.8 619.6 1535.0C628.0 1529.6 636.3 1523.8 644.3 1517.7C652.3 1511.7 660.1 1505.4 667.7 1498.8C677.4 1490.4 686.8 1481.6 695.9 1472.6C704.9 1463.5 713.6 1454.1 721.9 1444.5C730.3 1434.8 738.3 1424.9 746.0 1414.7C753.8 1404.6 761.2 1394.2 768.3 1383.6C775.5 1373.0 782.4 1362.2 789.1 1351.2C796.4 1339.2 803.4 1326.9 810.2 1314.5C817.1 1302.1 823.6 1289.4 829.9 1276.8C836.3 1264.1 842.4 1251.3 848.4 1238.4C854.4 1225.5 860.2 1212.6 865.9 1199.6C871.7 1186.3 877.4 1173.0 883.0 1159.7C888.6 1146.4 894.0 1133.0 899.4 1119.7C904.7 1106.3 910.0 1092.9 915.2 1079.5C920.2 1066.3 925.2 1053.1 930.1 1039.9C935.0 1026.7 939.8 1013.4 944.6 1000.1C949.3 986.8 954.0 973.5 958.7 960.2C963.3 946.9 967.9 933.6 972.4 920.3C976.9 907.0 981.4 893.7 985.9 880.3C990.3 867.0 994.8 853.6 999.2 840.2C1003.6 826.9 1007.9 813.5 1012.3 800.2C1016.6 786.9 1021.0 773.5 1025.3 760.2C1029.6 746.8 1034.0 733.4 1038.3 720.1C1042.7 706.7 1047.0 693.3 1051.4 679.9C1055.8 666.5 1060.2 653.2 1064.6 639.8C1069.0 626.5 1073.4 613.1 1077.9 599.8C1082.4 586.4 1086.9 573.1 1091.5 559.8C1096.1 546.5 1100.7 533.2 1105.5 519.9C1110.2 506.7 1115.0 493.4 1120.0 480.2C1125.0 466.7 1130.2 453.2 1135.5 439.8C1140.8 426.4 1146.2 413.0 1151.9 399.7C1157.5 386.3 1163.3 373.0 1169.3 359.8C1173.9 349.6 1178.6 339.3 1183.6 329.3C1188.6 319.2 1193.7 309.2 1199.1 299.5C1205.3 288.5 1211.6 277.6 1218.7 267.3C1223.2 260.8 1227.7 254.2 1232.7 248.2C1236.1 244.1 1239.7 240.2 1243.3 236.5C1247.9 231.6 1252.9 227.1 1257.8 222.5C1262.5 218.2 1266.8 213.0 1272.2 210.0C1281.0 205.0 1292.8 204.7 1303.2 204.5C1314.9 204.4 1327.6 205.9 1338.5 210.4C1346.2 213.6 1353.5 218.8 1360.3 223.9C1368.9 230.1 1376.8 237.4 1384.0 245.1C1390.8 252.5 1396.7 260.8 1402.7 269.0C1409.6 278.4 1416.0 288.3 1422.3 298.1C1428.8 308.0 1435.0 318.1 1441.0 328.2C1447.1 338.4 1453.0 348.8 1458.9 359.1C1466.2 372.3 1473.3 385.5 1480.3 398.9C1487.3 412.2 1494.1 425.7 1500.8 439.2C1507.6 452.7 1514.2 466.3 1520.8 479.9C1527.3 493.3 1533.7 506.7 1540.1 520.2C1546.6 533.6 1552.9 547.0 1559.3 560.4C1565.7 573.8 1572.0 587.2 1578.4 600.5C1584.8 613.9 1591.2 627.2 1597.6 640.5C1604.0 653.8 1610.5 667.1 1617.0 680.4C1623.5 693.7 1630.1 706.9 1636.8 720.1C1643.5 733.4 1650.4 746.8 1657.3 760.0C1664.3 773.3 1671.3 786.5 1678.5 799.7C1685.7 812.9 1693.0 826.1 1700.5 839.2C1706.4 849.5 1712.4 859.7 1718.4 869.9C1724.4 880.1 1730.5 890.3 1736.5 900.5C1742.6 910.6 1748.7 920.7 1754.7 930.8C1760.7 940.9 1766.7 950.9 1772.7 961.0C1776.5 967.5 1780.3 974.1 1784.1 980.6C1787.9 987.1 1791.5 993.7 1795.3 1000.1C1800.2 1008.7 1805.0 1017.4 1810.5 1025.5C1816.5 1034.2 1823.4 1042.2 1830.1 1050.4C1837.7 1059.9 1845.6 1069.2 1853.5 1078.5C1860.9 1087.3 1868.3 1096.0 1876.0 1104.6C1883.8 1113.4 1891.7 1122.1 1899.9 1130.6C1906.7 1137.8 1913.7 1144.8 1920.9 1151.6C1928.3 1158.6 1935.8 1165.4 1943.7 1171.9C1948.9 1176.3 1954.2 1180.4 1959.6 1184.6C1964.0 1188.1 1968.5 1191.5 1973.0 1194.9C1979.8 1200.2 1986.6 1205.6 1993.4 1210.9C1998.8 1215.1 2004.2 1219.4 2009.7 1223.5C2016.3 1228.5 2022.9 1233.5 2029.7 1238.2C2034.4 1241.5 2039.2 1244.6 2044.0 1247.8C2048.9 1250.9 2054.0 1253.8 2058.8 1257.1C2064.0 1260.7 2069.3 1264.3 2074.1 1268.5C2080.6 1274.4 2085.8 1281.7 2091.6 1288.3C2096.8 1294.3 2101.6 1300.7 2107.1 1306.4C2111.0 1310.5 2115.1 1314.7 2119.5 1318.4C2123.0 1321.3 2126.7 1324.1 2130.5 1326.7C2133.7 1328.9 2137.1 1330.9 2140.4 1332.9C2143.8 1335.0 2147.4 1336.9 2150.8 1338.9C2158.2 1343.1 2165.7 1347.1 2172.9 1351.6C2180.6 1356.4 2188.0 1361.8 2195.6 1366.9C2199.6 1369.6 2203.5 1372.5 2207.6 1375.1C2211.1 1377.4 2214.7 1379.6 2218.3 1381.7C2222.1 1383.8 2225.9 1385.8 2229.8 1387.7C2233.7 1389.6 2237.8 1391.3 2241.8 1393.0C2246.9 1395.2 2252.2 1397.1 2257.3 1399.4C2265.3 1403.1 2273.1 1407.4 2280.7 1412.0C2284.7 1414.4 2288.5 1417.2 2292.6 1419.7C2304.5 1426.9 2317.0 1434.0 2330.4 1438.0C2333.8 1439.0 2337.4 1439.8 2340.9 1440.6C2346.1 1441.9 2351.3 1442.9 2356.5 1444.4C2360.0 1445.4 2363.6 1446.6 2367.1 1447.8C2376.7 1451.2 2385.9 1455.6 2395.4 1459.2C2401.0 1461.3 2406.5 1463.5 2412.1 1465.4C2417.6 1467.3 2423.1 1469.0 2428.7 1470.6C2434.1 1472.2 2439.6 1473.6 2445.1 1474.9C2450.0 1476.0 2455.0 1477.0 2460.0 1478.0" stroke="#808080"/>
<path d="M300.0 1601.4C310.9 1600.9 321.9 1600.4 332.8 1600.0C343.9 1599.6 355.0 1599.5 366.1 1599.3C377.2 1599.0 388.4 1598.9 399.6 1598.7C413.4 1598.4 427.2 1598.2 441.1 1597.6C454.9 1597.0 468.7 1596.4 482.4 1595.3C495.9 1594.1 509.3 1592.8 522.7 1590.9C535.9 1589.0 549.2 1586.7 562.2 1583.7C572.0 1581.4 581.7 1578.9 591.2 1575.9C600.8 1572.9 610.3 1569.5 619.5 1565.7C632.1 1560.6 644.4 1554.6 656.2 1547.9C668.1 1541.3 679.7 1533.8 690.7 1525.8C701.8 1517.8 712.4 1509.1 722.4 1499.9C731.5 1491.5 740.2 1482.6 748.5 1473.5C756.7 1464.3 764.5 1454.6 772.0 1444.8C779.4 1435.0 786.5 1424.8 793.3 1414.4C800.1 1404.1 806.6 1393.4 812.9 1382.7C819.1 1372.0 825.1 1361.1 831.0 1350.2C837.6 1338.0 843.9 1325.7 850.0 1313.3C856.1 1300.9 862.1 1288.4 867.9 1275.9C873.6 1263.4 879.2 1250.8 884.7 1238.1C890.2 1225.5 895.5 1212.8 900.7 1200.0C906.0 1186.8 911.3 1173.5 916.4 1160.2C921.5 1146.9 926.5 1133.5 931.5 1120.1C936.4 1106.8 941.3 1093.3 946.0 1079.9C950.8 1066.6 955.4 1053.3 960.0 1040.0C964.7 1026.7 969.2 1013.4 973.7 1000.0C978.2 986.7 982.7 973.3 987.1 959.9C991.5 946.6 995.8 933.4 1000.1 920.1C1004.4 906.8 1008.6 893.5 1012.9 880.1C1017.1 866.8 1021.3 853.5 1025.5 840.1C1029.6 826.8 1033.7 813.5 1037.8 800.2C1041.9 786.9 1046.0 773.5 1050.1 760.2C1054.2 746.8 1058.2 733.5 1062.3 720.2C1066.3 706.8 1070.3 693.4 1074.4 680.1C1078.4 666.7 1082.4 653.3 1086.4 640.0C1090.5 626.6 1094.5 613.3 1098.5 599.9C1102.5 586.5 1106.6 573.1 1110.6 559.8C1114.7 546.4 1118.8 533.1 1123.0 519.7C1127.2 506.4 1131.4 493.1 1135.7 479.9C1140.1 466.4 1144.6 452.9 1149.2 439.5C1153.9 426.1 1158.6 412.8 1163.5 399.5C1168.5 386.2 1173.5 373.0 1178.8 359.8C1182.8 349.8 1186.9 339.9 1191.1 330.0C1195.3 320.1 1199.7 310.2 1204.2 300.4C1208.8 290.3 1213.6 280.2 1218.5 270.2C1223.5 260.2 1228.5 250.2 1233.8 240.4C1240.3 228.5 1246.7 216.4 1254.5 205.3C1259.2 198.7 1264.0 192.1 1269.5 186.1C1274.1 181.0 1279.1 176.2 1284.5 171.9C1288.4 168.8 1292.5 165.8 1296.8 163.2C1304.1 158.9 1312.1 155.0 1320.3 153.2C1323.6 152.4 1326.9 151.9 1330.2 151.7C1337.3 151.3 1344.8 152.8 1351.6 155.0C1358.4 157.2 1364.9 161.0 1370.8 165.1C1379.9 171.3 1387.2 180.3 1394.4 188.9C1402.9 199.0 1409.2 210.8 1416.8 221.7C1424.4 232.5 1432.2 243.2 1439.9 253.9C1443.1 258.4 1446.3 262.8 1449.5 267.3C1456.3 277.1 1462.8 287.1 1469.1 297.2C1475.4 307.3 1481.4 317.7 1487.2 328.1C1492.9 338.5 1498.5 349.1 1503.8 359.7C1510.4 372.8 1516.7 386.0 1522.8 399.3C1528.9 412.6 1534.8 426.1 1540.6 439.6C1546.4 453.1 1552.0 466.6 1557.7 480.2C1563.2 493.2 1568.5 506.2 1573.9 519.2C1579.4 532.2 1584.8 545.2 1590.4 558.1C1593.4 565.1 1596.5 572.1 1599.6 579.0C1602.7 586.0 1605.8 592.9 1609.0 599.8C1615.3 613.3 1621.8 626.6 1628.3 639.9C1634.8 653.3 1641.6 666.5 1648.1 679.8C1654.7 693.2 1661.2 706.6 1667.6 720.0C1674.0 733.5 1680.1 747.1 1686.4 760.6C1692.7 774.1 1698.9 787.7 1705.6 800.9C1712.3 814.2 1719.1 827.3 1726.7 840.1C1732.9 850.7 1739.5 861.0 1746.4 871.2C1753.2 881.4 1760.5 891.3 1767.7 901.2C1775.0 911.1 1782.6 920.9 1790.1 930.6C1797.6 940.4 1805.2 950.1 1812.7 959.9C1818.2 967.0 1823.6 974.1 1829.0 981.3C1834.4 988.5 1839.7 995.7 1844.9 1003.0C1852.7 1014.0 1860.2 1025.2 1867.7 1036.4C1873.0 1044.3 1878.2 1052.3 1883.5 1060.2C1888.8 1068.2 1894.1 1076.1 1899.5 1083.9C1905.8 1093.0 1912.2 1102.2 1918.9 1111.1C1927.8 1122.9 1937.1 1134.5 1947.0 1145.6C1951.7 1150.8 1956.6 1155.9 1961.6 1161.0C1967.1 1166.7 1972.9 1172.3 1978.6 1178.0C1984.3 1183.6 1990.0 1189.3 1995.7 1195.0C2001.4 1200.8 2007.1 1206.7 2012.8 1212.5C2018.5 1218.4 2024.1 1224.4 2029.9 1230.1C2037.1 1237.2 2044.3 1244.3 2051.8 1251.1C2060.9 1259.2 2070.5 1266.9 2080.2 1274.4C2089.2 1281.4 2098.4 1287.9 2107.7 1294.5C2115.1 1299.8 2122.7 1304.9 2130.2 1310.1C2137.3 1315.1 2144.5 1320.1 2151.6 1325.2C2158.9 1330.3 2166.0 1335.6 2173.3 1340.8C2180.4 1345.9 2187.4 1351.1 2194.6 1356.1C2202.2 1361.2 2209.7 1366.3 2217.5 1371.1C2222.0 1373.9 2226.6 1376.7 2231.2 1379.2C2235.0 1381.2 2238.8 1383.2 2242.6 1385.0C2249.4 1388.1 2256.9 1389.7 2263.6 1393.1C2269.1 1395.9 2274.3 1399.5 2279.5 1403.0C2285.2 1406.9 2290.4 1411.6 2296.0 1415.7C2301.9 1420.1 2307.9 1424.4 2314.1 1428.3C2319.6 1431.9 2325.2 1435.2 2331.0 1438.3C2337.8 1442.1 2344.8 1445.6 2351.8 1448.9C2358.9 1452.3 2366.0 1455.3 2373.2 1458.3C2380.4 1461.2 2387.7 1464.0 2395.0 1466.7C2402.3 1469.4 2409.8 1471.9 2417.3 1474.4C2424.5 1476.9 2431.8 1479.2 2439.1 1481.5C2446.0 1483.7 2453.0 1485.8 2460.0 1488.0" stroke="#00ff00"/>
<path d="M300.0 1605.9C311.2 1605.7 322.3 1605.4 333.5 1605.2C344.6 1605.0 355.7 1604.9 366.8 1604.6C377.9 1604.4 388.9 1604.2 400.0 1603.8C413.7 1603.3 427.3 1602.8 441.0 1601.7C454.6 1600.7 468.3 1599.5 481.9 1597.7C495.5 1596.0 509.1 1593.8 522.6 1591.1C536.0 1588.3 549.4 1585.1 562.5 1581.1C572.4 1578.1 582.2 1574.8 591.8 1571.0C601.3 1567.3 610.8 1563.2 619.9 1558.5C629.7 1553.5 639.4 1548.0 648.6 1542.0C657.9 1536.0 666.9 1529.4 675.6 1522.6C684.3 1515.7 692.7 1508.3 700.8 1500.7C709.9 1492.2 718.6 1483.2 726.9 1473.9C735.3 1464.6 743.4 1454.9 751.1 1445.0C759.0 1435.0 766.4 1424.8 773.7 1414.4C780.9 1403.9 787.8 1393.2 794.6 1382.5C801.3 1371.7 807.8 1360.8 814.1 1349.8C821.1 1337.6 827.8 1325.3 834.4 1312.8C840.8 1300.5 847.1 1288.0 853.2 1275.4C859.2 1262.9 865.0 1250.3 870.7 1237.7C876.4 1225.1 881.9 1212.4 887.2 1199.6C892.7 1186.5 898.1 1173.3 903.3 1160.1C908.5 1146.9 913.6 1133.6 918.6 1120.3C923.7 1107.0 928.6 1093.6 933.5 1080.3C938.3 1067.0 943.0 1053.8 947.7 1040.6C952.4 1027.3 957.1 1014.0 961.7 1000.7C966.3 987.3 970.9 973.9 975.4 960.6C979.9 947.2 984.3 933.9 988.8 920.5C993.2 907.1 997.6 893.8 1001.9 880.4C1006.2 866.9 1010.5 853.5 1014.8 840.1C1019.0 826.7 1023.2 813.4 1027.4 800.0C1031.6 786.7 1035.7 773.3 1039.8 759.9C1043.9 746.5 1048.0 733.2 1052.0 719.8C1056.1 706.4 1060.1 693.0 1064.1 679.5C1068.1 666.1 1072.1 652.7 1076.0 639.3C1080.0 625.9 1083.9 612.6 1087.8 599.2C1091.7 585.9 1095.5 572.6 1099.4 559.3C1103.3 546.0 1107.2 532.7 1111.1 519.4C1115.1 506.2 1119.0 493.0 1123.1 479.8C1127.2 466.4 1131.3 453.1 1135.6 439.8C1139.9 426.5 1144.2 413.3 1148.8 400.1C1153.3 386.9 1157.9 373.7 1162.8 360.6C1166.5 350.6 1170.2 340.6 1174.1 330.7C1178.0 320.7 1182.0 310.8 1186.1 300.9C1190.4 290.8 1194.7 280.7 1199.2 270.6C1203.8 260.5 1208.4 250.5 1213.3 240.5C1219.1 228.5 1225.0 216.6 1231.5 204.9C1237.2 194.6 1243.1 184.3 1249.7 174.5C1254.9 166.7 1260.3 158.9 1266.5 151.8C1271.0 146.8 1275.7 141.8 1280.9 137.4C1285.0 133.9 1289.3 130.6 1293.9 127.7C1296.1 126.3 1298.3 124.9 1300.7 123.7C1305.0 121.5 1309.6 119.4 1314.3 118.2C1319.2 117.0 1324.7 116.2 1329.7 116.8C1334.7 117.3 1339.8 119.4 1344.4 121.7C1350.0 124.4 1355.1 128.5 1360.0 132.5C1368.5 139.2 1375.8 147.4 1382.9 155.6C1391.0 164.8 1397.9 175.1 1405.2 185.1C1413.4 196.2 1421.3 207.5 1429.0 219.0C1436.4 229.9 1443.6 240.9 1450.3 252.2C1453.4 257.3 1456.4 262.5 1459.2 267.8C1464.6 277.6 1469.6 287.6 1474.5 297.7C1479.3 307.8 1483.8 318.0 1488.2 328.2C1492.7 338.5 1496.9 349.0 1501.1 359.4C1506.5 372.7 1511.8 386.2 1517.0 399.6C1522.3 413.2 1527.5 426.7 1532.8 440.2C1538.0 453.7 1543.2 467.2 1548.6 480.6C1553.8 493.6 1558.9 506.7 1564.7 519.5C1570.5 532.2 1576.5 544.9 1583.4 557.1C1587.2 564.0 1591.4 570.7 1595.6 577.4C1600.3 585.1 1605.2 592.5 1609.9 600.2C1615.8 609.8 1621.5 619.6 1627.1 629.4C1632.7 639.3 1638.0 649.3 1643.3 659.3C1648.5 669.2 1653.6 679.3 1658.7 689.4C1663.7 699.5 1668.6 709.7 1673.6 719.9C1680.2 733.3 1686.6 746.9 1693.2 760.4C1699.9 773.8 1706.4 787.3 1713.3 800.6C1720.2 813.9 1727.1 827.2 1734.5 840.2C1740.2 850.4 1746.1 860.6 1752.2 870.6C1758.3 880.7 1764.5 890.6 1770.8 900.6C1777.1 910.5 1783.5 920.3 1790.0 930.1C1796.5 940.0 1803.1 949.7 1809.6 959.5C1814.2 966.4 1818.9 973.2 1823.5 980.1C1828.1 986.9 1832.8 993.8 1837.4 1000.6C1844.6 1011.4 1851.8 1022.2 1859.0 1032.9C1866.7 1044.5 1874.4 1056.1 1882.2 1067.7C1887.8 1076.1 1893.4 1084.4 1899.1 1092.8C1904.3 1100.5 1909.6 1108.2 1914.9 1115.9C1920.2 1123.5 1925.6 1131.2 1930.9 1138.8C1937.9 1148.6 1944.9 1158.4 1952.0 1168.0C1954.8 1171.9 1957.7 1175.7 1960.5 1179.6C1964.6 1185.0 1968.7 1190.4 1972.8 1195.8C1979.5 1204.6 1986.3 1213.3 1993.2 1221.9C2000.1 1230.5 2007.0 1239.0 2014.2 1247.4C2019.2 1253.2 2024.3 1259.0 2029.5 1264.7C2033.4 1269.0 2037.3 1273.2 2041.4 1277.3C2048.7 1284.8 2056.2 1292.0 2064.0 1298.9C2069.4 1303.6 2074.9 1308.3 2080.5 1312.7C2089.7 1319.9 2099.2 1326.7 2109.0 1332.8C2116.0 1337.1 2123.1 1341.2 2130.4 1344.9C2136.9 1348.1 2143.6 1350.9 2150.3 1353.7C2157.7 1356.8 2165.5 1359.1 2172.6 1362.7C2180.8 1366.9 2188.0 1372.6 2195.7 1377.5C2203.1 1382.2 2210.1 1387.6 2217.8 1391.7C2221.9 1393.9 2226.1 1396.0 2230.5 1397.7C2234.2 1399.2 2238.1 1400.4 2242.0 1401.4C2249.0 1403.2 2256.3 1403.9 2263.5 1404.3C2270.8 1404.7 2278.2 1403.9 2285.6 1403.8C2292.2 1403.7 2298.9 1403.7 2305.5 1403.7C2312.0 1406.9 2318.7 1409.9 2325.0 1413.4C2330.6 1416.4 2335.9 1419.8 2341.3 1423.2C2348.6 1427.7 2355.9 1432.2 2362.9 1437.0C2370.0 1441.8 2377.0 1446.8 2383.7 1452.2C2391.3 1458.2 2398.4 1464.9 2405.8 1471.2C2413.4 1477.7 2420.7 1484.7 2428.7 1490.7C2434.3 1494.8 2439.9 1499.0 2445.9 1502.3C2450.5 1504.8 2455.3 1506.8 2460.0 1509.0" stroke="#008080"/>
</g>
<rect x="305.0" y="29.0" width="2151.3" height="1609.7" fill="none" stroke="#000" stroke-width="4.2"/>
<path d="M305.0 1638.7H274.7M305.0 1191.2H274.7M305.0 743.8H274.7M305.0 296.4H274.7M305.0 1415.0H289.0M305.0 967.5H289.0M305.0 520.1H289.0M305.0 72.6H289.0M484.3 1638.7V1668.3M1201.4 1638.7V1668.3M1918.5 1638.7V1668.3M842.8 1638.7V1653.2M1559.9 1638.7V1653.2M2277.0 1638.7V1653.2" stroke="#000" stroke-width="4.2" fill="none"/>
<text x="254.5" y="1657.5" font-size="62.5" text-anchor="end">0.0</text>
<text x="254.5" y="1210.0" font-size="62.5" text-anchor="end">0.5</text>
<text x="254.5" y="762.6" font-size="62.5" text-anchor="end">1.0</text>
<text x="254.5" y="315.2" font-size="62.5" text-anchor="end">1.5</text>
<text transform="translate(411.5 1747.4) scale(1.094 1)" font-size="80">−</text>
<text x="463.7" y="1736.8" font-size="62.5">80</text>
<text transform="translate(1128.6 1747.4) scale(1.094 1)" font-size="80">−</text>
<text x="1180.8" y="1736.8" font-size="62.5">60</text>
<text transform="translate(1845.7 1747.4) scale(1.094 1)" font-size="80">−</text>
<text x="1897.9" y="1736.8" font-size="62.5">40</text>
<text x="1380" y="1863.9" font-size="76.5" letter-spacing="0.15" text-anchor="middle">Temperature (°C)</text>
<text transform="translate(93.7 799.2) rotate(-90)" font-size="76.5" letter-spacing="0.8" text-anchor="middle">tanδ (-)</text>
<line x1="319.8" x2="454.2" y1="57.8" y2="57.8" stroke="#000000" stroke-width="9" stroke-linecap="round"/>
<text x="470.6" y="77.7" font-size="58" letter-spacing="1.0">EPDM</text>
<line x1="319.8" x2="454.2" y1="131.3" y2="131.3" stroke="#008000" stroke-width="9" stroke-linecap="round"/>
<text x="470.6" y="151.2" font-size="58" letter-spacing="1.0">EPDM/5SiC</text>
<line x1="319.8" x2="454.2" y1="206.1" y2="206.1" stroke="#ff00ff" stroke-width="9" stroke-linecap="round"/>
<text x="470.6" y="226.0" font-size="58" letter-spacing="1.0">EPDM/15SiC</text>
<line x1="319.8" x2="454.2" y1="280.5" y2="280.5" stroke="#0000ff" stroke-width="9" stroke-linecap="round"/>
<text x="470.6" y="300.4" font-size="58" letter-spacing="1.0">EPDM/10SiC/5SiO<tspan font-size="39" dy="16" dx="0.5">2</tspan></text>
<line x1="319.8" x2="454.2" y1="368.8" y2="368.8" stroke="#ffff00" stroke-width="9" stroke-linecap="round"/>
<text x="470.6" y="388.7" font-size="58" letter-spacing="1.0">EPDM/10SiC/5xGnP</text>
<line x1="319.8" x2="454.2" y1="443.4" y2="443.4" stroke="#8000ff" stroke-width="9" stroke-linecap="round"/>
<text x="470.6" y="463.3" font-size="58" letter-spacing="1.0">EPDM/10SiC/5CB</text>
<line x1="319.8" x2="454.2" y1="518.1" y2="518.1" stroke="#808080" stroke-width="9" stroke-linecap="round"/>
<text x="470.6" y="538.0" font-size="58" letter-spacing="1.0">EPDM/10SiC/5LDH</text>
<line x1="319.8" x2="454.2" y1="591.9" y2="591.9" stroke="#00ff00" stroke-width="9" stroke-linecap="round"/>
<text x="470.6" y="611.8" font-size="58" letter-spacing="1.0">EPDM/10SiC/5HAL</text>
<line x1="319.8" x2="454.2" y1="666.5" y2="666.5" stroke="#008080" stroke-width="9" stroke-linecap="round"/>
<text x="470.6" y="686.4" font-size="58" letter-spacing="1.0">EPDM/10SiC/5PY119</text>
</svg></body></html>
